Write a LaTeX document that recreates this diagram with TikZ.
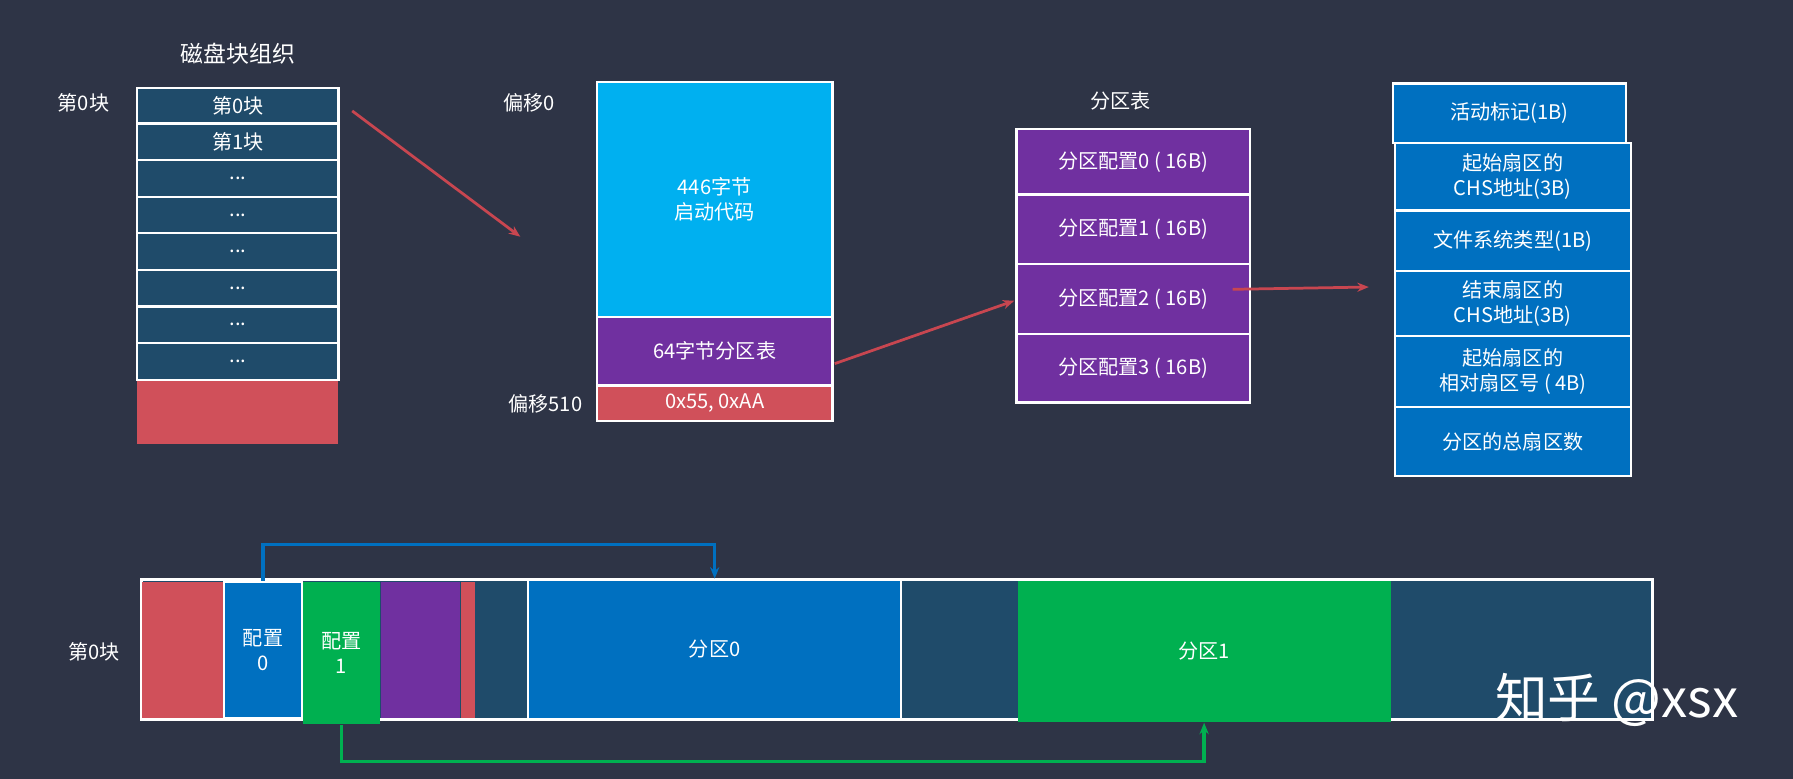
\documentclass[tikz,border=0pt]{standalone}
\usepackage{fontspec}
\setmainfont{Noto Sans CJK SC}
\usetikzlibrary{arrows.meta}
\definecolor{bg}{RGB}{46,52,70}
\definecolor{navy}{RGB}{31,75,106}
\definecolor{cyanb}{RGB}{0,176,240}
\definecolor{purp}{RGB}{112,48,160}
\definecolor{redb}{RGB}{208,80,90}
\definecolor{blueb}{RGB}{0,112,192}
\definecolor{greenb}{RGB}{0,176,80}
\definecolor{arrred}{RGB}{200,70,80}
\tikzset{
  x=0.5pt,y=-0.5pt,
  cell/.style={draw=white,line width=1pt,text=white,inner sep=0pt,align=center,font=\fontsize{8.8}{11}\selectfont},
  lbl/.style={text=white,font=\fontsize{8.8}{11}\selectfont,inner sep=0pt},
  redarrow/.style={draw=arrred,line width=1.2pt,-{Stealth[length=5pt,width=4pt]}}
}
\newcommand{\blk}[7]{\node[cell,fill=#6,minimum width={(#4-#2)*0.5pt},minimum height={(#5-#3)*0.5pt}] (#1) at ({(#2+#4)/2},{(#3+#5)/2}) {#7};}
\begin{document}
\begin{tikzpicture}
\fill[bg] (0,0) rectangle (1568,681);
\useasboundingbox (0,0) rectangle (1568,681);
% left column
\node[lbl,font=\fontsize{10}{12}\selectfont] (title) at (208,47) {磁盘块组织};
\node[lbl] (b0lbl) at (73,90) {第0块};
\blk{r0}{120}{77}{296}{108}{navy}{第0块}
\blk{r1}{120}{108}{296}{140}{navy}{第1块}
\blk{r2}{120}{140}{296}{172}{navy}{...}
\blk{r3}{120}{172}{296}{204}{navy}{...}
\blk{r4}{120}{204}{296}{236}{navy}{...}
\blk{r5}{120}{236}{296}{268}{navy}{...}
\blk{r6}{120}{268}{296}{300}{navy}{...}
\blk{r7}{120}{300}{296}{332}{navy}{...}
\fill[redb] (120,333) rectangle (296,388);
% MBR
\node[lbl] (off0) at (463,90) {偏移0};
\node[lbl] (off510) at (477,353) {偏移510};
\blk{boot}{522}{72}{728}{277}{cyanb}{446字节\\启动代码}
\blk{ptab}{522}{277}{728}{337}{purp}{64字节分区表}
\blk{sig}{522}{337}{728}{368}{redb}{0x55, 0xAA}
\coordinate (a1s) at (308,97); \coordinate (a1e) at (455,207);
\draw[redarrow] (a1s) -- (a1e);
\coordinate (a2s) at (730,318); \coordinate (a2e) at (887,263);
\draw[redarrow] (a2s) -- (a2e);
% partition table
\node[lbl] (pt) at (980,88) {分区表};
\blk{p0}{889}{113}{1093}{170}{purp}{分区配置0 ( 16B)}
\blk{p1}{889}{170}{1093}{231}{purp}{分区配置1 ( 16B)}
\blk{p2}{889}{231}{1093}{292}{purp}{分区配置2 ( 16B)}
\blk{p3}{889}{292}{1093}{352}{purp}{分区配置3 ( 16B)}
\coordinate (a3s) at (1078,253); \coordinate (a3e) at (1197,251);
\draw[redarrow] (a3s) -- (a3e);
% fields
\blk{f0}{1218}{73}{1422}{125}{blueb}{活动标记(1B)}
\blk{f1}{1220}{125}{1426}{184}{blueb}{起始扇区的\\CHS地址(3B)}
\blk{f2}{1220}{184}{1426}{237}{blueb}{文件系统类型(1B)}
\blk{f3}{1220}{237}{1426}{294}{blueb}{结束扇区的\\CHS地址(3B)}
\blk{f4}{1220}{294}{1426}{356}{blueb}{起始扇区的\\相对扇区号 ( 4B)}
\blk{f5}{1220}{356}{1426}{416}{blueb}{分区的总扇区数}
% bottom strip
\node[lbl] (b0) at (82,570) {第0块};
\draw[white,line width=1.2pt,fill=navy] (124,507) rectangle (1445,629);
\fill[redb] (124,509) rectangle (195,628);
\blk{c0}{196}{509}{264}{628}{blueb}{配置\\0}
\fill[purp] (333,509) rectangle (402,628);
\fill[redb] (403,509) rectangle (415,628);
\blk{part0}{462}{507}{788}{629}{blueb}{分区0}
\draw[white,line width=0.6pt] (788,507) -- (788,629);
\node[cell,draw=none,fill=greenb,minimum width={326*0.5pt},minimum height={123*0.5pt}] (part1) at (1053,569.5) {分区1};
\node[cell,draw=none,fill=greenb,minimum width={67*0.5pt},minimum height={124*0.5pt}] (c1) at (298.5,571) {配置\\1};
\draw[white,line width=1.2pt] (124,507) -- (1445,507);
% connectors
\draw[blueb,line width=1.5pt,-{Stealth[length=5pt,width=4pt]}] (c0.north) -- ++(0,-32) -| (part0.north);
\draw[greenb,line width=1.5pt,-{Stealth[length=5pt,width=4pt]}] (c1.south) -- ++(0,32) -| (part1.south);
% watermark
\node[text=white,font=\fontsize{23}{27}\selectfont,inner sep=0pt] (wm) at (1414,612) {知乎 @xsx};
\end{tikzpicture}
\end{document}
